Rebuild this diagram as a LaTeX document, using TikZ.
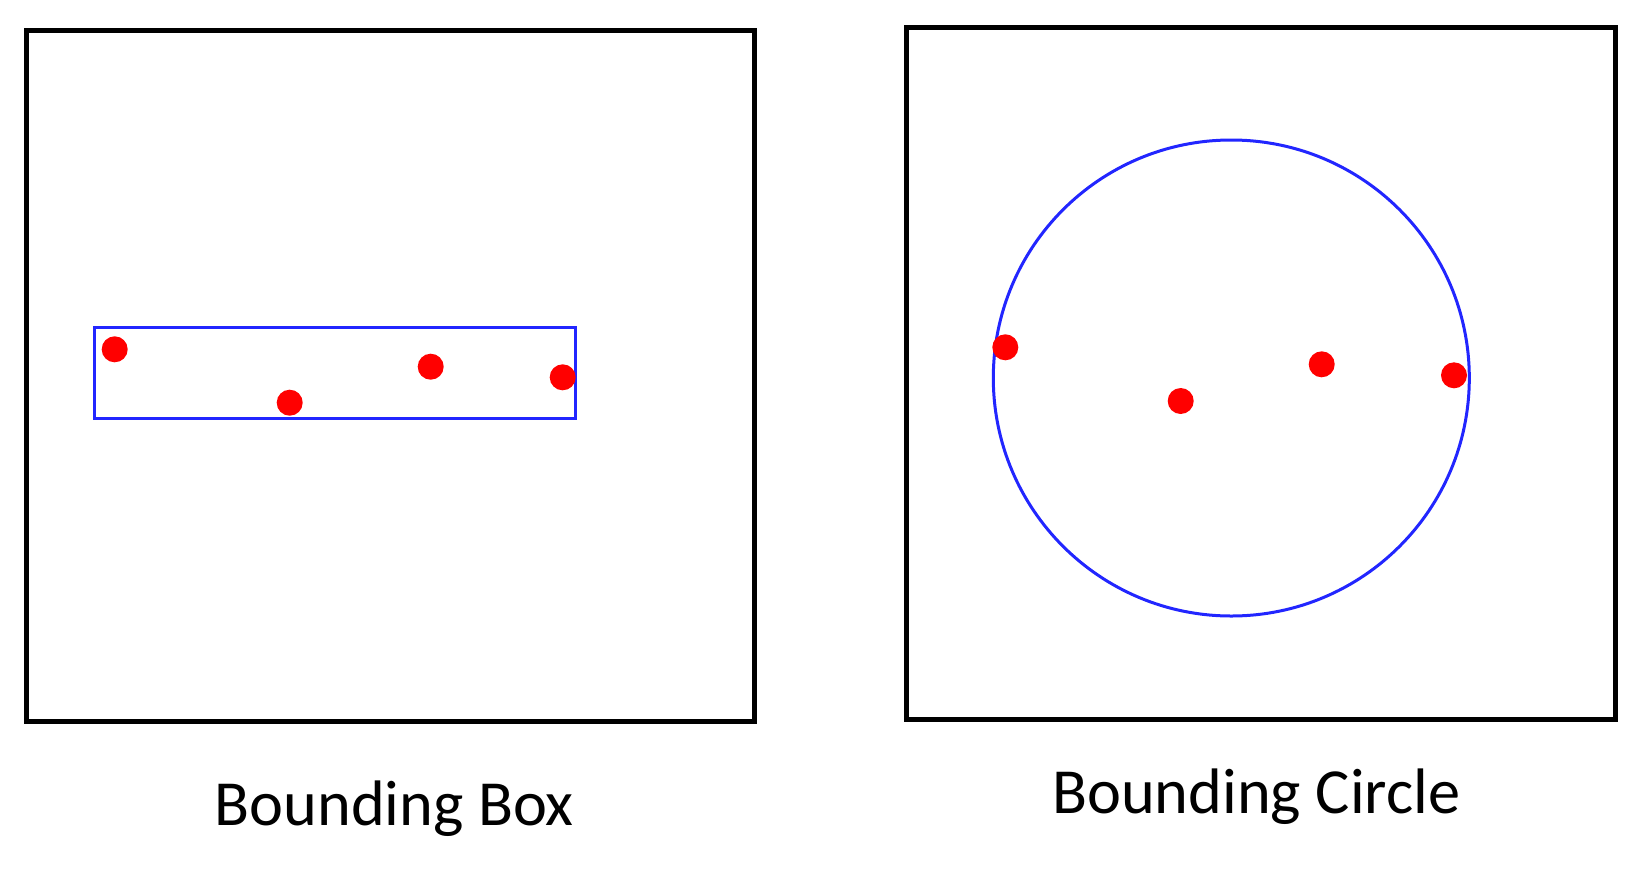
\documentclass[tikz,border=0pt]{standalone}
\usepackage{fontspec}
\setmainfont{Carlito}
\usetikzlibrary{positioning}
\definecolor{bndblue}{RGB}{34,38,255}
\tikzstyle{frame}=[draw, line width=5pt, line join=miter]
\tikzstyle{bound}=[draw=bndblue, line width=3pt]
\tikzstyle{pt}=[circle, fill=red, inner sep=0pt, minimum size=26pt]
\tikzstyle{caption}=[anchor=base, inner sep=0pt, font=\fontsize{64.3}{77}\selectfont]

\begin{document}
\begin{tikzpicture}[x=1pt, y=-1pt]
	\useasboundingbox (0,0) rectangle (1637,870);
	% left panel
	\draw[frame] (26.5,30.5) rectangle (754,721.3);
	\draw[bound] (94.7,327) rectangle (575,418.7);
	\node[pt] (L1) at (114.7,349.3) {};
	\node[pt] (L2) at (289.7,402.7) {};
	\node[pt] (L3) at (430.7,366.7) {};
	\node[pt] (L4) at (562.7,377.3) {};
	\node[caption] (boxlabel) at (394.3,825.3) {Bounding Box};
	% right panel
	\draw[frame] (906.5,27.5) rectangle (1615,719);
	\draw[bound] (1231.3,378) circle (238);
	\node[pt] (R1) at (1005.3,347.3) {};
	\node[pt] (R2) at (1180.7,401) {};
	\node[pt] (R3) at (1321.7,364.3) {};
	\node[pt] (R4) at (1454,375.3) {};
	\node[caption] (circlabel) at (1256.3,813.3) {Bounding Circle};
\end{tikzpicture}
\end{document}
